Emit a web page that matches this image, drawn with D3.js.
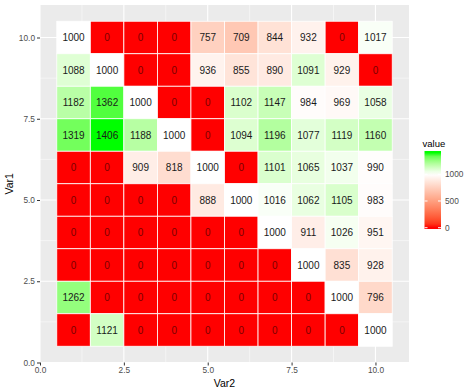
<!DOCTYPE html>
<html><head><meta charset="utf-8">
<script src="https://cdn.jsdelivr.net/npm/d3@7"></script>
<style>body{margin:0;background:#fff;}svg{display:block;font-family:"Liberation Sans",Arial,sans-serif;}</style>
</head><body><svg id="c" width="474" height="392"></svg>
<script>
const var1Levels = [10,9,8,7,6,5,4,3,2,1];
const var2Levels = [1,2,3,4,5,6,7,8,9,10];
const row10 = [1000,0,0,0,757,709,844,932,0,1017];
const row9  = [1088,1000,0,0,936,855,890,1091,929,0];
const row8  = [1182,1362,1000,0,0,1102,1147,984,969,1058];
const row7  = [1319,1406,1188,1000,0,1094,1196,1077,1119,1160];
const row6  = [0,0,909,818,1000,0,1101,1065,1037,990];
const row5  = [0,0,0,0,888,1000,1016,1062,1105,983];
const row4  = [0,0,0,0,0,0,1000,911,1026,951];
const row3  = [0,0,0,0,0,0,0,1000,835,928];
const row2  = [1262,0,0,0,0,0,0,0,1000,796];
const row1  = [0,1121,0,0,0,0,0,0,0,1000];
const rows = [row10,row9,row8,row7,row6,row5,row4,row3,row2,row1];
const axisTicks = [0,2.5,5,7.5,10];
const minorTicks = [1.25,3.75,6.25,8.75];
const legendTicks = [0,500,1000];

const data = [];
rows.forEach((r,i)=>r.forEach((v,j)=>data.push({var1:var1Levels[i],var2:var2Levels[j],value:v})));

const svg = d3.select("#c");
const L=40, R=409, T=5, B=362.5;
const x = d3.scaleLinear().domain([0,11]).range([L,R]);
const y = d3.scaleLinear().domain([0,11]).range([B,T]);
const maxV = d3.max(data,d=>d.value);
const color = d3.scaleLinear().domain([0,1000,maxV]).range(["#ff0000","#ffffff","#00ff00"]).interpolate(d3.interpolateLab);

svg.append("rect").attr("x",L).attr("y",T).attr("width",R-L).attr("height",B-T).attr("fill","#ebebeb");
const g = svg.append("g");
minorTicks.forEach(t=>{
  g.append("line").attr("x1",x(t)).attr("x2",x(t)).attr("y1",T).attr("y2",B).attr("stroke","#fff").attr("stroke-width",0.5);
  g.append("line").attr("y1",y(t)).attr("y2",y(t)).attr("x1",L).attr("x2",R).attr("stroke","#fff").attr("stroke-width",0.5);
});
axisTicks.forEach(t=>{
  g.append("line").attr("x1",x(t)).attr("x2",x(t)).attr("y1",T).attr("y2",B).attr("stroke","#fff").attr("stroke-width",1.1);
  g.append("line").attr("y1",y(t)).attr("y2",y(t)).attr("x1",L).attr("x2",R).attr("stroke","#fff").attr("stroke-width",1.1);
});

svg.append("g").selectAll("rect").data(data).join("rect")
  .attr("x",d=>x(d.var2-0.5)).attr("y",d=>y(d.var1+0.5))
  .attr("width",x(1)-x(0)).attr("height",y(0)-y(1))
  .attr("fill",d=>color(d.value)).attr("stroke","#fff").attr("stroke-width",0.8);

svg.append("g").selectAll("text").data(data).join("text")
  .attr("x",d=>x(d.var2)).attr("y",d=>y(d.var1)).attr("dy","0.36em")
  .attr("text-anchor","middle").attr("font-size",10)
  .attr("fill",d=>d.value===0?"#7a0000":"#1a1a1a").text(d=>d.value);

// axes
const xa = svg.append("g").attr("transform",`translate(0,${B})`)
  .call(d3.axisBottom(x).tickValues(axisTicks).tickFormat(d3.format(".1f")).tickSize(3).tickPadding(2));
const ya = svg.append("g").attr("transform",`translate(${L},0)`)
  .call(d3.axisLeft(y).tickValues(axisTicks).tickFormat(d3.format(".1f")).tickSize(3).tickPadding(2));
[xa,ya].forEach(a=>{
  a.select(".domain").remove();
  a.selectAll("line").attr("stroke","#333");
  a.selectAll("text").attr("fill","#4d4d4d").attr("font-size",8.3).attr("font-family","Liberation Sans, Arial, sans-serif");
});
svg.append("text").attr("x",(L+R)/2).attr("y",387).attr("text-anchor","middle").attr("font-size",10.5).attr("fill","#000").text("Var2");
svg.append("text").attr("transform",`translate(13,${(T+B)/2}) rotate(-90)`).attr("text-anchor","middle").attr("font-size",10.5).attr("fill","#000").text("Var1");

// legend
const lx=424.5, lw=16.5, lTop=151, lBot=229;
const ly = d3.scaleLinear().domain([0,maxV]).range([227.7,152.6]);
const defs = svg.append("defs");
const grad = defs.append("linearGradient").attr("id","lg").attr("x1",0).attr("x2",0).attr("y1",1).attr("y2",0);
d3.range(0,21).forEach(i=>{
  const v = maxV*i/20;
  grad.append("stop").attr("offset",(ly(v)-lBot)/(lTop-lBot)).attr("stop-color",color(v));
});
grad.append("stop").attr("offset",1).attr("stop-color",color(maxV));
svg.append("rect").attr("x",lx).attr("y",lTop).attr("width",lw).attr("height",lBot-lTop).attr("fill","url(#lg)");
legendTicks.forEach(t=>{
  svg.append("line").attr("x1",lx).attr("x2",lx+3).attr("y1",ly(t)).attr("y2",ly(t)).attr("stroke","#fff");
  svg.append("line").attr("x1",lx+lw-3).attr("x2",lx+lw).attr("y1",ly(t)).attr("y2",ly(t)).attr("stroke","#fff");
  svg.append("text").attr("x",lx+lw+4).attr("y",ly(t)).attr("dy","0.35em").attr("font-size",8.3).attr("fill","#4d4d4d").text(t);
});
svg.append("text").attr("x",lx-2).attr("y",147).attr("font-size",9.5).attr("fill","#000").text("value");
</script></body></html>
